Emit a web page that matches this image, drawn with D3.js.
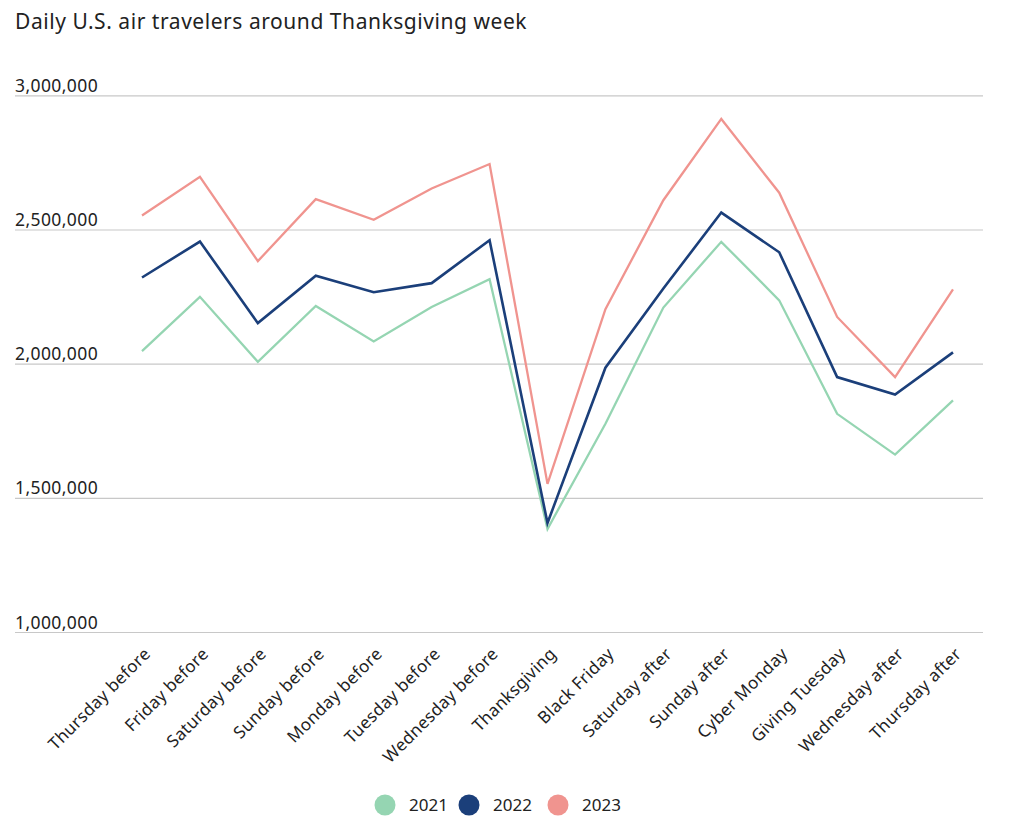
<script src="https://cdn.jsdelivr.net/npm/d3@7"></script>
<body style="margin:0;background:#fff">
<script>
// canvas size
var W = 1024, H = 832;

// data
var days = ["Thursday before", "Friday before", "Saturday before", "Sunday before", "Monday before",
	"Tuesday before", "Wednesday before", "Thanksgiving", "Black Friday", "Saturday after",
	"Sunday after", "Cyber Monday", "Giving Tuesday", "Wednesday after", "Thursday after"];
var years = ["2021", "2022", "2023"];
var v2021 = [2047000, 2249000, 2007000, 2215000, 2083000, 2211000, 2315000, 1384000, 1776000, 2209000, 2454000, 2236000, 1813000, 1661000, 1863000];
var v2022 = [2321000, 2455000, 2151000, 2328000, 2266000, 2300000, 2460000, 1406000, 1985000, 2280000, 2563000, 2415000, 1950000, 1885000, 2042000];
var v2023 = [2552000, 2696000, 2382000, 2613000, 2536000, 2653000, 2744000, 1552000, 2203000, 2609000, 2912000, 2637000, 2174000, 1950000, 2277000];
var yTicks = [1000000, 1500000, 2000000, 2500000, 3000000];
var colors = ["#95d5b2", "#1b3f7a", "#f0948f"];

var font = "'Noto Sans', sans-serif";

var svg = d3.select("body").append("svg")
	.attr("width", W)
	.attr("height", H)
	.style("font-family", font);

var x = d3.scalePoint().domain(days).range([142, 953]);
var y = d3.scaleLinear().domain([1000000, 3000000]).range([632, 95.3]);

//title
svg.append("text")
	.attr("x", 15).attr("y", 29)
	.attr("font-size", "21px")
	.attr("letter-spacing", "0.55px")
	.attr("fill", "#222")
	.text("Daily U.S. air travelers around Thanksgiving week");

//gridlines with labels sitting on top of them
var yAxis = svg.append("g")
	.call(d3.axisLeft(y).tickValues(yTicks).tickSize(-968).tickFormat(d3.format(",")))
	.attr("transform", "translate(983,0)");
yAxis.select(".domain").remove();
yAxis.selectAll(".tick line").attr("stroke", "#c8c8c8").attr("stroke-width", 1.2)
	.attr("x1", 0).attr("x2", -968);
yAxis.selectAll(".tick text")
	.attr("x", -968).attr("y", 0).attr("dy", "-4px")
	.attr("text-anchor", "start")
	.attr("font-size", "17.5px")
	.attr("letter-spacing", "0.4px")
	.attr("font-family", font)
	.attr("fill", "#222");

//x labels
var xAxis = svg.append("g")
	.attr("transform", "translate(0,632)")
	.call(d3.axisBottom(x).tickSize(0));
xAxis.select(".domain").remove();
xAxis.selectAll(".tick text")
	.attr("font-size", "17px")
	.attr("letter-spacing", "0.3px")
	.attr("font-family", font)
	.attr("fill", "#222")
	.attr("text-anchor", "end")
	.attr("y", 0).attr("dy", 0)
	.attr("transform", "translate(9,23) rotate(-45)");

//lines
var series = [v2021, v2022, v2023];
var line = d3.line()
	.x(function(d, i) { return x(days[i]); })
	.y(function(d) { return y(d); });

svg.selectAll(".series")
	.data(series)
	.enter().append("path")
	.attr("fill", "none")
	.attr("stroke", function(d, i) { return colors[i]; })
	.attr("stroke-width", function(d, i) { return i == 1 ? 2.6 : 2.3; })
	.attr("stroke-linejoin", "miter")
	.attr("d", line);

//legend
var legendX = [385, 469, 558];
var legend = svg.selectAll(".legend")
	.data(years)
	.enter().append("g")
	.attr("transform", function(d, i) { return "translate(" + legendX[i] + ",805)"; });

legend.append("circle")
	.attr("r", 10.5)
	.attr("fill", function(d, i) { return colors[i]; });

legend.append("text")
	.attr("x", 24).attr("dy", "0.36em")
	.attr("font-size", "17px")
	.attr("fill", "#222")
	.text(function(d) { return d; });
</script>
</body>
